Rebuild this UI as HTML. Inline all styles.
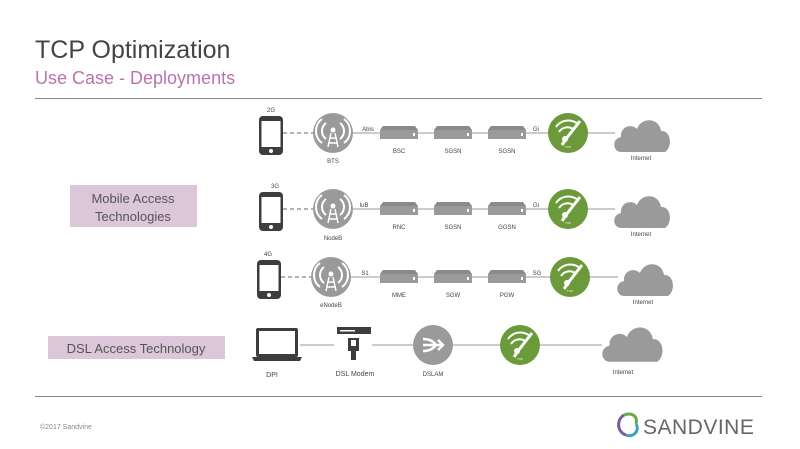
<!DOCTYPE html>
<html><head><meta charset="utf-8"><style>
html,body{margin:0;padding:0;background:#fff;}
svg{display:block;font-family:"Liberation Sans",sans-serif;}
</style></head><body>
<svg width="800" height="449" viewBox="0 0 800 449" xmlns="http://www.w3.org/2000/svg">
<defs>
 <g id="phone">
  <rect x="0" y="0" width="24" height="39" rx="4" fill="#3d3d3d"/>
  <rect x="2.5" y="5" width="19" height="26" fill="#fff"/>
  <circle cx="12" cy="35" r="2" fill="#fff"/>
 </g>
 <g id="tower">
  <circle r="20" fill="#9a9a9a"/>
  <path d="M-7,-10 A10,10 0 0 0 -7,6 M7,-10 A10,10 0 0 1 7,6 M-11,-14 A15,15 0 0 0 -11,10 M11,-14 A15,15 0 0 1 11,10" stroke="#fff" stroke-width="2" fill="none"/>
  <circle cx="0" cy="-3" r="2.5" fill="#fff"/>
  <path d="M-2,0 L-5,14 M2,0 L5,14 M-3.5,5 H3.5 M-4.5,10 H4.5" stroke="#fff" stroke-width="1.5" fill="none"/>
 </g>
 <g id="server">
  <path d="M3,0 H35 L38,4 H0 Z" fill="#8a8a8a"/>
  <rect x="0" y="4" width="38" height="9" fill="#9a9a9a"/>
  <rect x="33" y="7" width="2" height="3" fill="#fff"/>
 </g>
 <g id="tcp">
  <circle r="20" fill="#6b9a3a"/>
  <path d="M-12,-6 A15,15 0 0 1 10,-9 M-9,-1 A10,10 0 0 1 5,-4" stroke="#fff" stroke-width="2" fill="none"/>
  <path d="M12,-12 L-2,6 L-6,12" stroke="#fff" stroke-width="3" fill="none"/>
  <circle cx="-3" cy="6" r="3" fill="#fff"/>
  <text x="0" y="15" font-size="3" fill="#fff" text-anchor="middle">TCP</text>
 </g>
 <g id="cloud">
  <path d="M8,35 C0,35 -2,22 8,20 C7,10 18,6 24,12 C28,0 46,0 48,14 C58,13 60,30 52,35 Z" fill="#9a9a9a"/>
 </g>
</defs>

<text x="35" y="58" font-size="25" fill="#444">TCP Optimization</text>
<text x="35" y="84" font-size="18" fill="#b874ad">Use Case - Deployments</text>
<line x1="35" y1="98.5" x2="762" y2="98.5" stroke="#888" stroke-width="1"/>

<rect x="70" y="185" width="127" height="42" fill="#dcc7da"/>
<text x="133" y="203" font-size="13" fill="#555" text-anchor="middle">Mobile Access</text>
<text x="133" y="221" font-size="13" fill="#555" text-anchor="middle">Technologies</text>
<rect x="48" y="336" width="177" height="23" fill="#dcc7da"/>
<text x="136" y="353" font-size="13" fill="#555" text-anchor="middle">DSL Access Technology</text>

<g font-size="6" fill="#444" text-anchor="middle">
<!-- Row 1 -->
<line x1="283" y1="133" x2="313" y2="133" stroke="#999" stroke-width="1.5" stroke-dasharray="4,3"/>
<line x1="353" y1="133" x2="615" y2="133" stroke="#bbb" stroke-width="1.5"/>
<use href="#phone" x="259" y="116"/>
<use href="#tower" x="333" y="133"/>
<use href="#server" x="380" y="126"/><use href="#server" x="434" y="126"/><use href="#server" x="488" y="126"/>
<use href="#tcp" x="568" y="133"/>
<use href="#cloud" x="613" y="117"/>
<text x="271" y="112">2G</text><text x="333" y="163">BTS</text><text x="368" y="131">Abis</text>
<text x="399" y="153">BSC</text><text x="453" y="153">SGSN</text><text x="507" y="153">SGSN</text>
<text x="536" y="131">Gi</text><text x="641" y="160">Internet</text>
<!-- Row 2 -->
<line x1="283" y1="209" x2="313" y2="209" stroke="#999" stroke-width="1.5" stroke-dasharray="4,3"/>
<line x1="353" y1="209" x2="615" y2="209" stroke="#bbb" stroke-width="1.5"/>
<use href="#phone" x="259" y="192"/>
<use href="#tower" x="333" y="209"/>
<use href="#server" x="380" y="202"/><use href="#server" x="434" y="202"/><use href="#server" x="488" y="202"/>
<use href="#tcp" x="568" y="209"/>
<use href="#cloud" x="613" y="193"/>
<text x="275" y="188">3G</text><text x="333" y="240">NodeB</text><text x="364" y="207">IuB</text>
<text x="399" y="229">RNC</text><text x="453" y="229">SGSN</text><text x="507" y="229">GGSN</text>
<text x="536" y="207">Gi</text><text x="641" y="236">Internet</text>
<!-- Row 3 -->
<line x1="281" y1="277" x2="311" y2="277" stroke="#999" stroke-width="1.5" stroke-dasharray="4,3"/>
<line x1="351" y1="277" x2="618" y2="277" stroke="#bbb" stroke-width="1.5"/>
<use href="#phone" x="257" y="260"/>
<use href="#tower" x="331" y="277"/>
<use href="#server" x="380" y="270"/><use href="#server" x="434" y="270"/><use href="#server" x="488" y="270"/>
<use href="#tcp" x="570" y="277"/>
<use href="#cloud" x="616" y="261"/>
<text x="268" y="256">4G</text><text x="331" y="307">eNodeB</text><text x="365" y="275">S1</text>
<text x="399" y="297">MME</text><text x="453" y="297">SGW</text><text x="507" y="297">PGW</text>
<text x="537" y="275">SG</text><text x="643" y="304">Internet</text>
<!-- Row 4 -->
<line x1="300" y1="345" x2="602" y2="345" stroke="#bbb" stroke-width="1.5"/>
<rect x="256" y="328" width="42" height="29" rx="2" fill="#3d3d3d"/>
<rect x="259" y="331" width="36" height="23" fill="#fff"/>
<path d="M252,357 H302 L300,361 H254 Z" fill="#3d3d3d"/>
<rect x="337" y="327" width="34" height="7" fill="#3d3d3d"/>
<rect x="340" y="330" width="15" height="1.5" fill="#fff"/>
<rect x="334" y="338" width="80" height="14" fill="#fff"/>
<rect x="348" y="338" width="11" height="13" fill="#3d3d3d"/>
<rect x="351" y="340" width="5" height="6" fill="#fff"/>
<rect x="351" y="351" width="5" height="9" fill="#3d3d3d"/>
<line x1="372" y1="345" x2="413" y2="345" stroke="#bbb" stroke-width="1.5"/>
<circle cx="433" cy="345" r="20" fill="#9a9a9a"/>
<path d="M423,339 Q432,339 436,345 Q432,351 423,351 M423,345 H443 M438,340 L443,345 L438,350" stroke="#fff" stroke-width="2.5" fill="none"/>
<use href="#tcp" x="520" y="345"/>
<g transform="translate(601,324) scale(1.08)"><use href="#cloud"/></g>
<text x="272" y="377" font-size="7">DPI</text><text x="355" y="376" font-size="7">DSL Modem</text>
<text x="433" y="376">DSLAM</text><text x="623" y="374">Internet</text>
</g>

<line x1="35" y1="396.5" x2="762" y2="396.5" stroke="#888" stroke-width="1"/>
<text x="40" y="429" font-size="7" fill="#888">©2017 Sandvine</text>
<g>
 <path d="M624,415 C616,420 617,432 626,435" stroke="#7a5c9e" stroke-width="3" fill="none"/>
 <path d="M626,435 C634,438 640,430 636,424" stroke="#3aa0c8" stroke-width="3" fill="none"/>
 <path d="M624,415 C632,412 638,416 636,424" stroke="#6aa84f" stroke-width="3" fill="none"/>
 <text x="643" y="434" font-size="21" fill="#666" letter-spacing="0.5">SANDVINE</text>
</g>
</svg>
</body></html>
